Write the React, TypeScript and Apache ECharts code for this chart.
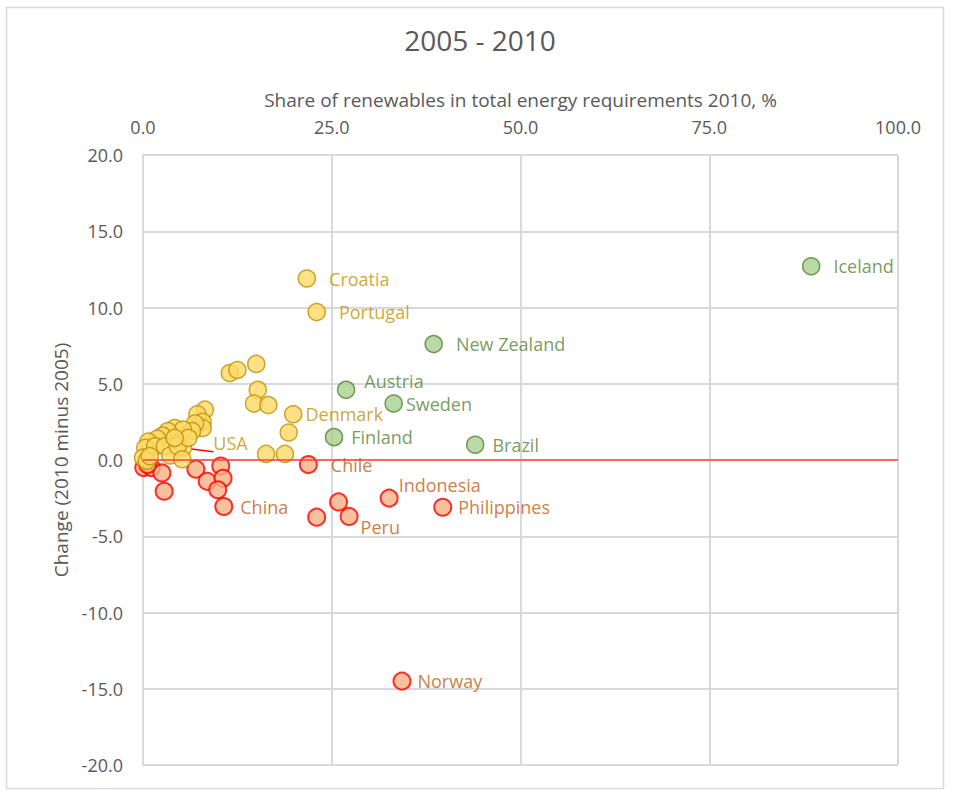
import React, { useEffect, useRef } from "react";
import * as echarts from "echarts";

// ---- Data (x = share of renewables 2010 %, y = change 2010 minus 2005) ----
const greenNames = ["Iceland", "New Zealand", "Austria", "Sweden", "Finland", "Brazil"];
const greenX = [88.5, 38.5, 26.9, 33.2, 25.3, 44.0];
const greenY = [12.7, 7.6, 4.6, 3.7, 1.5, 1.0];

const yellowNames = [
  "Croatia", "Portugal", "Denmark", "USA",
  "", "", "", "", "", "", "", "", "",
  "", "", "", "", "", "", "", "", "", "", "", "", "", "", "", "", "", "", "", "", "", "", "",
];
const yellowX = [
  21.7, 23.0, 19.9, 5.3,
  11.5, 12.5, 15.0, 15.2, 14.7, 16.6, 19.3, 16.3, 18.8,
  8.2, 7.2, 7.9, 7.9, 6.9, 6.5, 4.2, 5.3, 3.3, 2.6, 1.9, 0.7, 0.3, 0.0, 1.6, 2.9, 3.6, 4.6, 5.2, 0.5, 6.0, 4.2, 0.9,
];
const yellowY = [
  11.9, 9.7, 3.0, 0.8,
  5.7, 5.9, 6.3, 4.6, 3.7, 3.6, 1.8, 0.4, 0.4,
  3.3, 3.0, 2.5, 2.1, 2.4, 1.9, 2.1, 2.0, 1.9, 1.6, 1.4, 1.2, 0.8, 0.15, 0.9, 0.9, 0.3, 0.9, 0.05, -0.05, 1.45, 1.45, 0.25,
];

const redNames = [
  "Chile", "Indonesia", "Philippines", "Peru", "China", "Norway",
  "", "", "", "", "", "", "", "", "", "", "", "",
];
const redX = [
  21.9, 32.6, 39.7, 27.3, 10.7, 34.3,
  25.9, 23.0, 0.1, 1.1, 2.5, 2.8, 7.0, 8.5, 10.3, 10.6, 9.9, 0.6,
];
const redY = [
  -0.3, -2.5, -3.1, -3.7, -3.05, -14.5,
  -2.75, -3.75, -0.5, -0.5, -0.85, -2.05, -0.6, -1.4, -0.4, -1.2, -1.95, -0.3,
];

const xTicks = [0, 25, 50, 75, 100];
const yTicks = [-20, -15, -10, -5, 0, 5, 10, 15, 20];

const FONT = "'Open Sans', sans-serif";
const GREY = "#595959";

// label placement (styling, keyed by name)
const labelPlace: Record<string, { distance?: number; offset?: number[]; guide?: boolean }> = {
  Iceland: { distance: 13 },
  "New Zealand": { distance: 13 },
  Austria: { distance: 9, offset: [0, -9] },
  Sweden: { distance: 3 },
  Finland: { distance: 8 },
  Brazil: { distance: 8 },
  Croatia: { distance: 13 },
  Portugal: { distance: 13 },
  Denmark: { distance: 3 },
  USA: { distance: 21, offset: [0, -5], guide: true },
  Chile: { distance: 13 },
  Indonesia: { distance: 0, offset: [0, -13] },
  Philippines: { distance: 6 },
  Peru: { distance: 2, offset: [0, 11] },
  China: { distance: 7 },
  Norway: { distance: 6 },
};

function buildData(names: string[], xs: number[], ys: number[], color: string) {
  return xs.map((x, i) => {
    const name = names[i] || "";
    const item: any = { value: [x, ys[i]], name };
    if (name) {
      const p = labelPlace[name] || {};
      item.label = {
        show: true,
        position: "right",
        distance: p.distance ?? 8,
        offset: p.offset ?? [0, 0],
        formatter: name,
        color,
        fontFamily: FONT,
        fontSize: 18,
      };
      item.labelLine = p.guide
        ? { show: true, lineStyle: { color: "#FF0000", width: 1.5 } }
        : { show: false };
    }
    return item;
  });
}

export default function App() {
  const ref = useRef<HTMLDivElement>(null);
  useEffect(() => {
    document.body.style.margin = "0";
    if (!ref.current) return;
    const chart = echarts.init(ref.current, undefined, { renderer: "svg" });
    const symbolSize = 17;
    const option: any = {
      animation: false,
      backgroundColor: "#ffffff",
      title: {
        text: "2005 - 2010",
        left: "center",
        top: 21,
        textStyle: { fontFamily: FONT, fontSize: 28, fontWeight: "normal", color: GREY },
      },
      graphic: [
        {
          type: "rect",
          shape: { x: 6.5, y: 7.5, width: 937, height: 781 },
          style: { fill: "none", stroke: "#D9D9D9", lineWidth: 1.5 },
          silent: true,
        },
      ],
      grid: { left: 143, right: 62, top: 155, bottom: 31, containLabel: false },
      xAxis: {
        type: "value",
        position: "top",
        min: 0,
        max: 100,
        interval: 25,
        name: "Share of renewables in total energy requirements 2010, %",
        nameLocation: "middle",
        nameGap: 46,
        nameTextStyle: { fontFamily: FONT, fontSize: 19, color: GREY },
        axisLine: { show: true, lineStyle: { color: "#D9D9D9", width: 2 } },
        axisTick: { show: false },
        axisLabel: {
          fontFamily: FONT,
          fontSize: 18,
          color: GREY,
          margin: 19,
          formatter: (v: number) => (xTicks.includes(v) ? v.toFixed(1) : ""),
        },
        splitLine: { show: true, lineStyle: { color: "#D9D9D9", width: 2 } },
      },
      yAxis: {
        type: "value",
        min: -20,
        max: 20,
        interval: 5,
        name: "Change (2010 minus 2005)",
        nameLocation: "middle",
        nameGap: 72,
        nameTextStyle: { fontFamily: FONT, fontSize: 19, color: GREY },
        axisLine: { show: true, lineStyle: { color: "#D9D9D9", width: 2 } },
        axisTick: { show: false },
        axisLabel: {
          fontFamily: FONT,
          fontSize: 18,
          color: GREY,
          margin: 20,
          formatter: (v: number) => (yTicks.includes(v) ? v.toFixed(1) : ""),
        },
        splitLine: { show: true, lineStyle: { color: "#D9D9D9", width: 2 } },
      },
      series: [
        {
          type: "line",
          data: [],
          z: 1,
          markLine: {
            silent: true,
            symbol: "none",
            label: { show: false },
            lineStyle: { color: "#FF4040", width: 1.5, type: "solid" },
            data: [{ yAxis: 0 }],
          },
        },
        {
          type: "scatter",
          name: "decrease",
          z: 3,
          clip: false,
          symbolSize,
          itemStyle: { color: "#F4B183", borderColor: "#FF0000", borderWidth: 2 },
          data: buildData(redNames, redX, redY, "#C55A11"),
        },
        {
          type: "scatter",
          name: "increase",
          z: 4,
          clip: false,
          symbolSize,
          itemStyle: { color: "#FFD966", borderColor: "#BF9000", borderWidth: 1.5 },
          data: buildData(yellowNames, yellowX, yellowY, "#BF9000"),
        },
        {
          type: "scatter",
          name: "high share",
          z: 5,
          clip: false,
          symbolSize,
          itemStyle: { color: "#A9D18E", borderColor: "#548235", borderWidth: 1.5 },
          data: buildData(greenNames, greenX, greenY, "#548235"),
        },
      ],
    };
    chart.setOption(option);
    return () => chart.dispose();
  }, []);
  return <div ref={ref} style={{ width: 960, height: 796 }} />;
}
